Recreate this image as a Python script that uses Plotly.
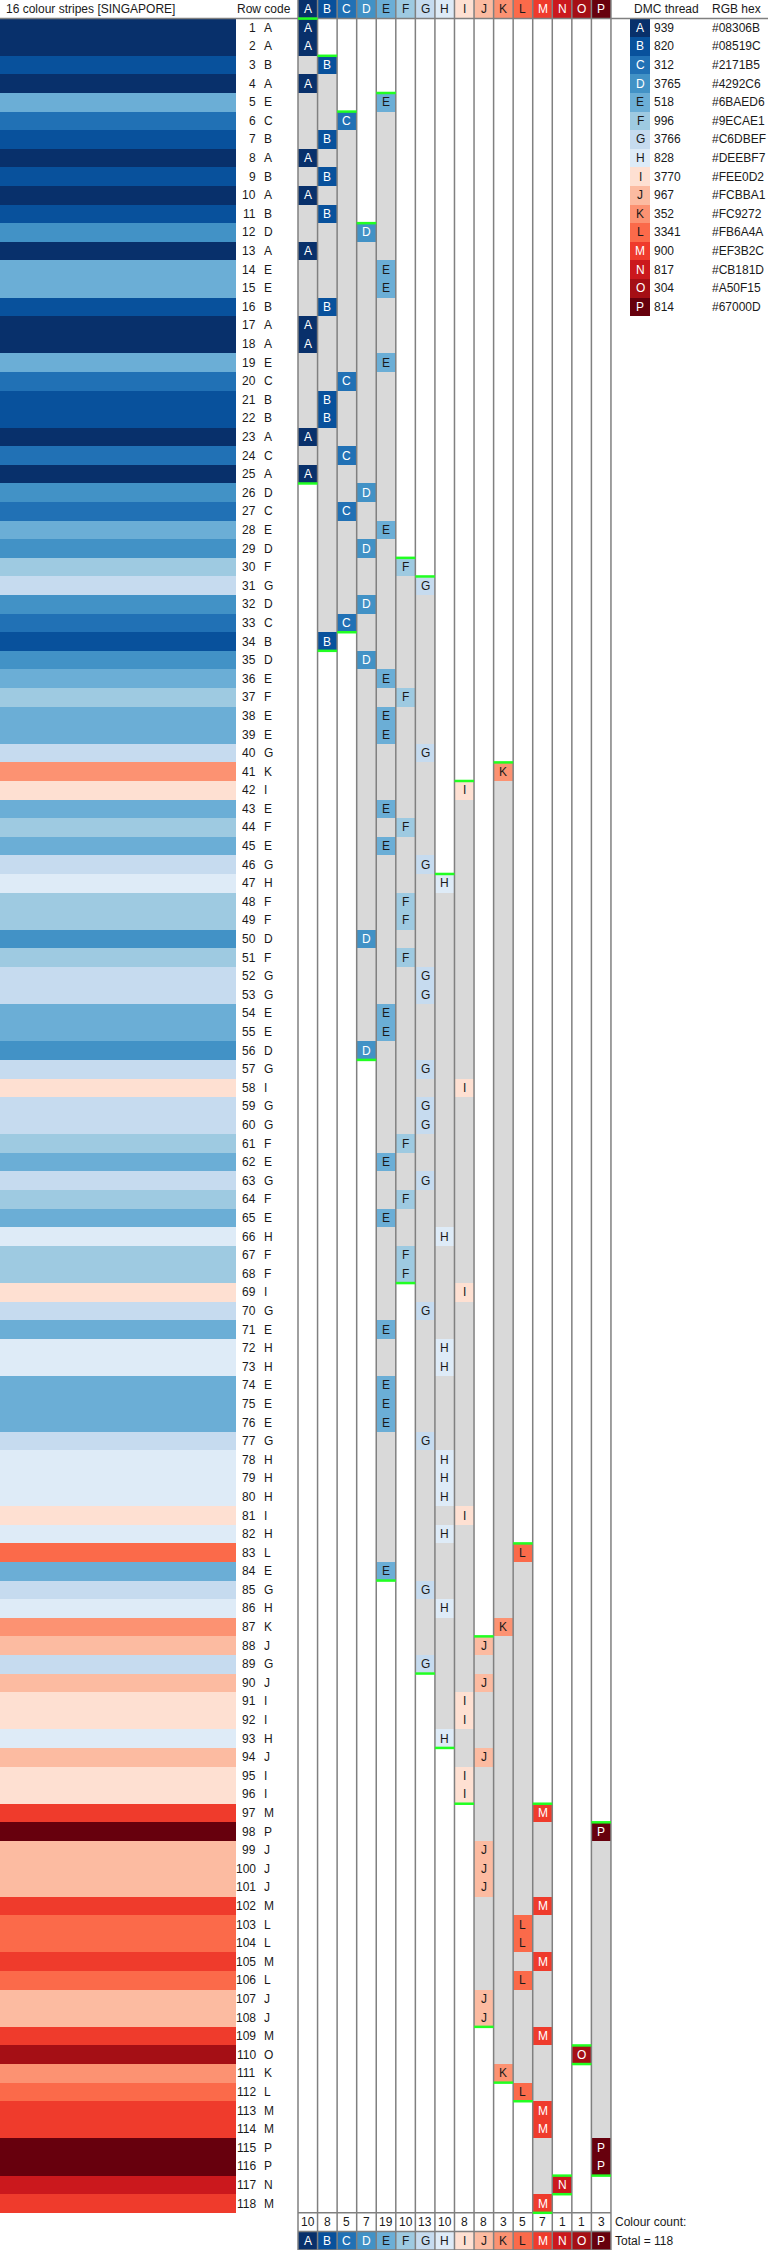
import plotly.graph_objects as go

# ---------------- data ----------------
letters = list("ABCDEFGHIJKLMNOP")
hex_colours = ["#08306B", "#08519C", "#2171B5", "#4292C6", "#6BAED6", "#9ECAE1",
               "#C6DBEF", "#DEEBF7", "#FEE0D2", "#FCBBA1", "#FC9272", "#FB6A4A",
               "#EF3B2C", "#CB181D", "#A50F15", "#67000D"]
dmc_threads = ["939", "820", "312", "3765", "518", "996", "3766", "828",
               "3770", "967", "352", "3341", "900", "817", "304", "814"]
stripe_codes = list(
    "AABAECBABA"
    "BDAEEBAAEC"
    "BBACADCEDF"
    "GDCBDEFEEG"
    "KIEFEGHFFD"
    "FGGEEDGIGG"
    "FEGFEHFFIG"
    "EHHEEEGHHH"
    "IHLEGHKJGJ"
    "IIHJIIMPJJ"
    "JMLLMLJJMO"
    "KLMMPPNM"
)
title_text = "16 colour stripes [SINGAPORE]"
row_header = "Row code"
legend_headers = ["DMC thread", "RGB hex"]

# ---------------- layout constants ----------------
W, H = 768, 2250
N = len(stripe_codes)
TOTAL_ROWS = N + 3
STRIPE_W = 236
NUM_RIGHT = 257
CODE_LEFT = 263
GRID_X0 = 298
COL_W = 19.56
LEG_SW_X0 = 630
LEG_SW_W = 20
LEG_NUM_X = 653
LEG_HEX_X = 711
COUNT_LABEL_X = 614
FONT = "Liberation Sans, Arial, sans-serif"
FS = 12
DARK = "#1a1a1a"
GREY_FILL = "#D9D9D9"
LINE_GREY = "#808080"
GREEN = "#22ff22"

col_of = {l: i for i, l in enumerate(letters)}
colour_of = {l: c for l, c in zip(letters, hex_colours)}


def txt_col(l):
    return "white" if l in "ABCDMNOP" else DARK


def col_center(i):
    return GRID_X0 + (i + 0.5) * COL_W


rows = list(range(1, N + 1))
first = {}
last = {}
for r, c in zip(rows, stripe_codes):
    first.setdefault(c, r)
    last[c] = r
counts = [stripe_codes.count(l) for l in letters]

fig = go.Figure()

# stripes
fig.add_trace(go.Bar(
    orientation="h", y=[r + 0.5 for r in rows], x=[STRIPE_W] * N, base=0,
    width=1, marker=dict(color=[colour_of[c] for c in stripe_codes], line=dict(width=0)),
    hoverinfo="skip", showlegend=False))

# grey spans first..last occurrence
fig.add_trace(go.Bar(
    x=[col_center(i) for i in range(16)],
    base=[first[l] for l in letters],
    y=[last[l] - first[l] + 1 for l in letters],
    width=COL_W, marker=dict(color=GREY_FILL, line=dict(width=0)),
    hoverinfo="skip", showlegend=False))

# grid cells
fig.add_trace(go.Bar(
    x=[col_center(col_of[c]) for c in stripe_codes], base=rows, y=[1] * N,
    width=COL_W, marker=dict(color=[colour_of[c] for c in stripe_codes], line=dict(width=0)),
    hoverinfo="skip", showlegend=False))

# header row cells and bottom letter row cells
for base_row in (0, N + 2):
    fig.add_trace(go.Bar(
        x=[col_center(i) for i in range(16)], base=[base_row] * 16, y=[1] * 16,
        width=COL_W, marker=dict(color=hex_colours, line=dict(width=0)),
        hoverinfo="skip", showlegend=False))

# legend swatches
fig.add_trace(go.Bar(
    x=[LEG_SW_X0 + LEG_SW_W / 2] * 16, base=list(range(1, 17)), y=[1] * 16,
    width=LEG_SW_W, marker=dict(color=hex_colours, line=dict(width=0)),
    hoverinfo="skip", showlegend=False))

ann = []


def A(x, y, text, anchor="center", color=DARK):
    ann.append(dict(x=x, y=y, xref="x", yref="y", text=text, showarrow=False,
                    xanchor=anchor, yanchor="middle", borderpad=0,
                    font=dict(family=FONT, size=FS, color=color)))


# headers
A(5, 0.5, title_text, "left")
A(NUM_RIGHT + 35, 0.5, row_header, "right")
A(LEG_SW_X0 + 3, 0.5, legend_headers[0], "left")
A(LEG_HEX_X, 0.5, legend_headers[1], "left")
for i, l in enumerate(letters):
    A(col_center(i), 0.5, l, "center", txt_col(l))
    A(col_center(i), N + 2.5, l, "center", txt_col(l))
    A(col_center(i), N + 1.5, str(counts[i]), "center")
A(COUNT_LABEL_X, N + 1.5, "Colour count:", "left")
A(COUNT_LABEL_X, N + 2.5, f"Total = {sum(counts)}", "left")

# row labels and grid letters
for r, c in zip(rows, stripe_codes):
    A(NUM_RIGHT, r + 0.5, str(r), "right")
    A(CODE_LEFT, r + 0.5, c, "left")
    A(col_center(col_of[c]), r + 0.5, c, "center", txt_col(c))

# legend text
for k, l in enumerate(letters):
    y = k + 1.5
    A(LEG_SW_X0 + LEG_SW_W / 2, y, l, "center", txt_col(l))
    A(LEG_NUM_X, y, dmc_threads[k], "left")
    A(LEG_HEX_X, y, hex_colours[k], "left")

shapes = []
# vertical grid lines
for k in range(17):
    x = GRID_X0 + k * COL_W
    shapes.append(dict(type="line", xref="x", yref="y", x0=x, x1=x, y0=0, y1=TOTAL_ROWS,
                       line=dict(color=LINE_GREY, width=1.5)))
# header line
shapes.append(dict(type="line", xref="x", yref="y", x0=0, x1=W, y0=1, y1=1,
                   line=dict(color=LINE_GREY, width=1.5)))
for yy in (N + 1, N + 2, N + 3):
    shapes.append(dict(type="line", xref="x", yref="y", x0=GRID_X0, x1=GRID_X0 + 16 * COL_W,
                       y0=yy, y1=yy, line=dict(color=LINE_GREY, width=1.5)))
# green first/last markers
for i, l in enumerate(letters):
    x0 = GRID_X0 + i * COL_W
    x1 = x0 + COL_W
    for yy in (first[l], last[l] + 1):
        shapes.append(dict(type="line", xref="x", yref="y", x0=x0, x1=x1, y0=yy, y1=yy,
                           line=dict(color=GREEN, width=2.5)))

fig.update_layout(
    width=W, height=H, margin=dict(l=0, r=0, t=0, b=0),
    paper_bgcolor="white", plot_bgcolor="white",
    barmode="overlay", bargap=0,
    xaxis=dict(range=[0, W], visible=False, fixedrange=True),
    yaxis=dict(range=[TOTAL_ROWS, 0], visible=False, fixedrange=True),
    annotations=ann, shapes=shapes, showlegend=False,
)

fig.write_html("out.html", config={"displayModeBar": False})
